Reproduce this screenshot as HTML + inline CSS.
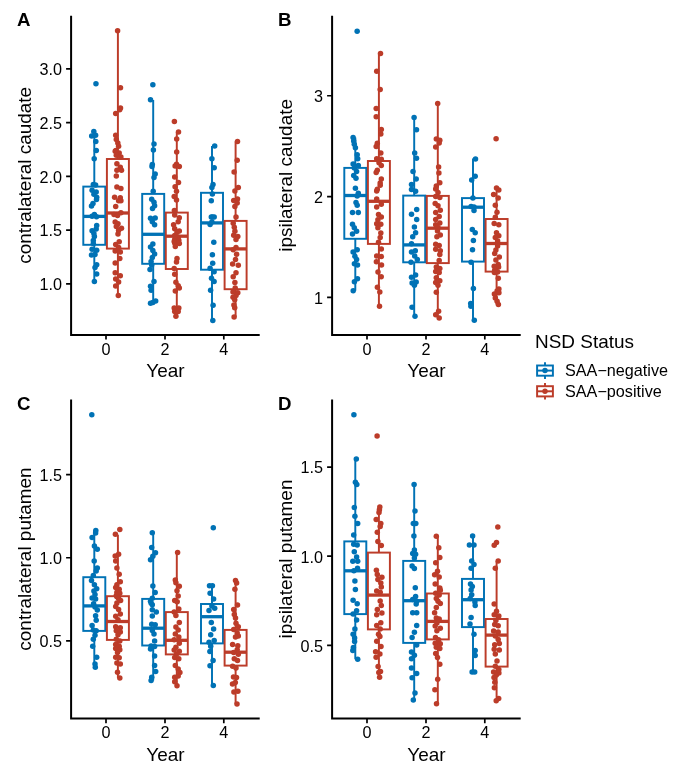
<!DOCTYPE html>
<html lang="en"><head><meta charset="utf-8"><title>Figure</title>
<style>html,body{margin:0;padding:0;background:#fff}svg{display:block}text{font-family:"Liberation Sans",Arial,Helvetica,sans-serif;fill:#000}.tk{font-size:16.2px}.tt{font-size:18.95px}.lb{font-size:18.67px;font-weight:bold}</style></head><body>
<svg width="685" height="782" viewBox="0 0 685 782">
<rect width="685" height="782" fill="#fff"/>
<g>
<g stroke="#0072B5" stroke-width="1.95" fill="none">
<path d="M94.3 131.5V186.6M94.3 244.8V281.4"/>
<rect x="83.3" y="186.6" width="22" height="58.2" fill="#fff"/>
<path d="M83.3 216.4H105.3" stroke-width="3.3"/>
</g>
<g stroke="#BC3C29" stroke-width="1.95" fill="none">
<path d="M117.9 30.8V159M117.9 248.6V295.5"/>
<rect x="106.9" y="159" width="22" height="89.6" fill="#fff"/>
<path d="M106.9 213H128.9" stroke-width="3.3"/>
</g>
<g stroke="#0072B5" stroke-width="1.95" fill="none">
<path d="M153.2 100V193.9M153.2 263.8V303.2"/>
<rect x="142.2" y="193.9" width="22" height="69.9" fill="#fff"/>
<path d="M142.2 234.3H164.2" stroke-width="3.3"/>
</g>
<g stroke="#BC3C29" stroke-width="1.95" fill="none">
<path d="M176.8 132V212.6M176.8 269V316.2"/>
<rect x="165.8" y="212.6" width="22" height="56.4" fill="#fff"/>
<path d="M165.8 236.2H187.8" stroke-width="3.3"/>
</g>
<g stroke="#0072B5" stroke-width="1.95" fill="none">
<path d="M212 146.1V192.8M212 269.7V320.4"/>
<rect x="201" y="192.8" width="22" height="76.9" fill="#fff"/>
<path d="M201 222.9H223" stroke-width="3.3"/>
</g>
<g stroke="#BC3C29" stroke-width="1.95" fill="none">
<path d="M235.6 141.5V220.9M235.6 289.2V317.1"/>
<rect x="224.6" y="220.9" width="22" height="68.3" fill="#fff"/>
<path d="M224.6 248.9H246.6" stroke-width="3.3"/>
</g>
<g fill="#0072B5">
<circle cx="95.95" cy="83.7" r="2.75"/><circle cx="93.8" cy="131.5" r="2.75"/><circle cx="91.7" cy="135.9" r="2.75"/><circle cx="95.6" cy="135.3" r="2.75"/><circle cx="95.8" cy="141.4" r="2.75"/><circle cx="96.3" cy="150.4" r="2.75"/><circle cx="94.2" cy="158.7" r="2.75"/><circle cx="93.3" cy="184.5" r="2.75"/><circle cx="95.6" cy="185.1" r="2.75"/><circle cx="92.1" cy="190.3" r="2.75"/><circle cx="96.2" cy="192" r="2.75"/><circle cx="93.9" cy="194.3" r="2.75"/><circle cx="96.7" cy="197.2" r="2.75"/><circle cx="96.5" cy="199.5" r="2.75"/><circle cx="93" cy="203.6" r="2.75"/><circle cx="91.5" cy="205.9" r="2.75"/><circle cx="92.1" cy="216.2" r="2.75"/><circle cx="94.4" cy="214.5" r="2.75"/><circle cx="96.5" cy="216.8" r="2.75"/><circle cx="96.7" cy="225.4" r="2.75"/><circle cx="96.2" cy="228.9" r="2.75"/><circle cx="92.1" cy="230.8" r="2.75"/><circle cx="93.9" cy="233.5" r="2.75"/><circle cx="94.4" cy="236.4" r="2.75"/><circle cx="93.3" cy="240.5" r="2.75"/><circle cx="93.3" cy="243.4" r="2.75"/><circle cx="92.1" cy="249.2" r="2.75"/><circle cx="96.7" cy="250.3" r="2.75"/><circle cx="91.5" cy="254.9" r="2.75"/><circle cx="95" cy="254.4" r="2.75"/><circle cx="96.7" cy="264.7" r="2.75"/><circle cx="95" cy="267.6" r="2.75"/><circle cx="96.7" cy="273.9" r="2.75"/><circle cx="94.4" cy="281.4" r="2.75"/>
</g>
<g fill="#BC3C29">
<circle cx="117.6" cy="30.8" r="2.75"/><circle cx="120.5" cy="87.7" r="2.75"/><circle cx="120.5" cy="107.9" r="2.75"/><circle cx="119.7" cy="109.8" r="2.75"/><circle cx="115.7" cy="113.6" r="2.75"/><circle cx="115.7" cy="135.3" r="2.75"/><circle cx="116.3" cy="139.5" r="2.75"/><circle cx="117.8" cy="143" r="2.75"/><circle cx="118.6" cy="146.2" r="2.75"/><circle cx="115.9" cy="150.6" r="2.75"/><circle cx="115.2" cy="151.2" r="2.75"/><circle cx="119.2" cy="152.9" r="2.75"/><circle cx="116.3" cy="155.2" r="2.75"/><circle cx="120.9" cy="156.9" r="2.75"/><circle cx="116.9" cy="163.8" r="2.75"/><circle cx="120.3" cy="167.3" r="2.75"/><circle cx="116.9" cy="170.2" r="2.75"/><circle cx="121.5" cy="170.2" r="2.75"/><circle cx="116.3" cy="175.9" r="2.75"/><circle cx="116.9" cy="186.9" r="2.75"/><circle cx="120.9" cy="188.6" r="2.75"/><circle cx="114.6" cy="197.2" r="2.75"/><circle cx="120.3" cy="197.8" r="2.75"/><circle cx="118.6" cy="200.7" r="2.75"/><circle cx="120.9" cy="200.7" r="2.75"/><circle cx="115.7" cy="206.4" r="2.75"/><circle cx="114" cy="214.5" r="2.75"/><circle cx="120.9" cy="212.8" r="2.75"/><circle cx="117.5" cy="215.6" r="2.75"/><circle cx="115.2" cy="222" r="2.75"/><circle cx="118" cy="223.7" r="2.75"/><circle cx="116.3" cy="226.6" r="2.75"/><circle cx="121.5" cy="228.3" r="2.75"/><circle cx="118.6" cy="230.6" r="2.75"/><circle cx="118" cy="234.1" r="2.75"/><circle cx="119.2" cy="241.7" r="2.75"/><circle cx="115.7" cy="244.6" r="2.75"/><circle cx="118.6" cy="247.5" r="2.75"/><circle cx="115.2" cy="250.9" r="2.75"/><circle cx="120.3" cy="252.1" r="2.75"/><circle cx="119.8" cy="258.4" r="2.75"/><circle cx="115.2" cy="263" r="2.75"/><circle cx="115.2" cy="272.8" r="2.75"/><circle cx="120.3" cy="275.7" r="2.75"/><circle cx="115.7" cy="279.1" r="2.75"/><circle cx="118.6" cy="282" r="2.75"/><circle cx="115.7" cy="286" r="2.75"/><circle cx="118.3" cy="295.5" r="2.75"/>
</g>
<g fill="#0072B5">
<circle cx="152.85" cy="84.8" r="2.75"/><circle cx="150.5" cy="99.8" r="2.75"/><circle cx="154" cy="143.9" r="2.75"/><circle cx="153.4" cy="149.9" r="2.75"/><circle cx="152.3" cy="164.6" r="2.75"/><circle cx="152" cy="166.5" r="2.75"/><circle cx="155.2" cy="174" r="2.75"/><circle cx="154" cy="177.5" r="2.75"/><circle cx="153.2" cy="191.3" r="2.75"/><circle cx="151.7" cy="199.3" r="2.75"/><circle cx="154" cy="202.2" r="2.75"/><circle cx="154.6" cy="205.7" r="2.75"/><circle cx="152.5" cy="208.6" r="2.75"/><circle cx="150.5" cy="218.3" r="2.75"/><circle cx="155.2" cy="218.1" r="2.75"/><circle cx="152.3" cy="221.8" r="2.75"/><circle cx="154.6" cy="224.7" r="2.75"/><circle cx="152.85" cy="244" r="2.75"/><circle cx="150.5" cy="247.1" r="2.75"/><circle cx="152.85" cy="250.5" r="2.75"/><circle cx="154.6" cy="254" r="2.75"/><circle cx="152.3" cy="257.5" r="2.75"/><circle cx="151.1" cy="261.5" r="2.75"/><circle cx="151.7" cy="264.9" r="2.75"/><circle cx="150" cy="269.5" r="2.75"/><circle cx="154" cy="281.6" r="2.75"/><circle cx="150.5" cy="286.2" r="2.75"/><circle cx="151.1" cy="290.3" r="2.75"/><circle cx="155.7" cy="300.9" r="2.75"/><circle cx="152.85" cy="302.4" r="2.75"/><circle cx="150.5" cy="303.2" r="2.75"/>
</g>
<g fill="#BC3C29">
<circle cx="174.4" cy="121.4" r="2.75"/><circle cx="178.5" cy="132" r="2.75"/><circle cx="176.7" cy="138.9" r="2.75"/><circle cx="176.7" cy="151.9" r="2.75"/><circle cx="176.5" cy="164.3" r="2.75"/><circle cx="175.1" cy="165.9" r="2.75"/><circle cx="179.3" cy="166.5" r="2.75"/><circle cx="174.7" cy="177.1" r="2.75"/><circle cx="178.5" cy="182.4" r="2.75"/><circle cx="175.1" cy="186.7" r="2.75"/><circle cx="176.5" cy="191.3" r="2.75"/><circle cx="174.2" cy="196.5" r="2.75"/><circle cx="176.5" cy="199.9" r="2.75"/><circle cx="174.4" cy="210.6" r="2.75"/><circle cx="174.7" cy="214.9" r="2.75"/><circle cx="179.3" cy="217.8" r="2.75"/><circle cx="178.2" cy="221.8" r="2.75"/><circle cx="173.6" cy="224.7" r="2.75"/><circle cx="174.7" cy="228.7" r="2.75"/><circle cx="179.3" cy="231" r="2.75"/><circle cx="177" cy="232.2" r="2.75"/><circle cx="174.7" cy="235.6" r="2.75"/><circle cx="178.2" cy="237.3" r="2.75"/><circle cx="174.7" cy="239.6" r="2.75"/><circle cx="178.8" cy="240.2" r="2.75"/><circle cx="174.2" cy="241.4" r="2.75"/><circle cx="177.6" cy="242.5" r="2.75"/><circle cx="174.7" cy="243.1" r="2.75"/><circle cx="179.3" cy="243.6" r="2.75"/><circle cx="175.3" cy="246.5" r="2.75"/><circle cx="177" cy="258.6" r="2.75"/><circle cx="176.5" cy="262.1" r="2.75"/><circle cx="174.2" cy="268.4" r="2.75"/><circle cx="174.7" cy="274.2" r="2.75"/><circle cx="175.9" cy="282.2" r="2.75"/><circle cx="178.2" cy="285.7" r="2.75"/><circle cx="179.3" cy="288" r="2.75"/><circle cx="175.3" cy="290.9" r="2.75"/><circle cx="174.2" cy="308.1" r="2.75"/><circle cx="178.8" cy="308.1" r="2.75"/><circle cx="174.7" cy="311.6" r="2.75"/><circle cx="178.2" cy="311.6" r="2.75"/><circle cx="175.9" cy="316.2" r="2.75"/>
</g>
<g fill="#0072B5">
<circle cx="214.7" cy="146.1" r="2.75"/><circle cx="211.9" cy="158.8" r="2.75"/><circle cx="214.2" cy="167.8" r="2.75"/><circle cx="213" cy="184.4" r="2.75"/><circle cx="211.9" cy="187.6" r="2.75"/><circle cx="212.4" cy="193.9" r="2.75"/><circle cx="211.3" cy="200.8" r="2.75"/><circle cx="212.4" cy="217" r="2.75"/><circle cx="211.3" cy="216.9" r="2.75"/><circle cx="214.2" cy="216.9" r="2.75"/><circle cx="210.1" cy="224.4" r="2.75"/><circle cx="211.9" cy="222.1" r="2.75"/><circle cx="213.8" cy="242.2" r="2.75"/><circle cx="212.4" cy="254.7" r="2.75"/><circle cx="212.7" cy="263.3" r="2.75"/><circle cx="210.1" cy="268.2" r="2.75"/><circle cx="214.1" cy="271.8" r="2.75"/><circle cx="211.5" cy="278.3" r="2.75"/><circle cx="214.1" cy="281.4" r="2.75"/><circle cx="210.6" cy="290.3" r="2.75"/><circle cx="213.1" cy="305.3" r="2.75"/><circle cx="212.8" cy="320.4" r="2.75"/>
</g>
<g fill="#BC3C29">
<circle cx="237.5" cy="141.5" r="2.75"/><circle cx="237.2" cy="160.2" r="2.75"/><circle cx="234.1" cy="172" r="2.75"/><circle cx="238.3" cy="187.6" r="2.75"/><circle cx="234.9" cy="191" r="2.75"/><circle cx="237.5" cy="198.9" r="2.75"/><circle cx="233.7" cy="200.5" r="2.75"/><circle cx="237.2" cy="203.1" r="2.75"/><circle cx="234.9" cy="206.6" r="2.75"/><circle cx="236" cy="217" r="2.75"/><circle cx="233.2" cy="223.2" r="2.75"/><circle cx="234.3" cy="227.3" r="2.75"/><circle cx="234.9" cy="231.3" r="2.75"/><circle cx="233.7" cy="235.3" r="2.75"/><circle cx="237.8" cy="236.5" r="2.75"/><circle cx="236" cy="239.4" r="2.75"/><circle cx="236" cy="247.4" r="2.75"/><circle cx="233.2" cy="249.7" r="2.75"/><circle cx="236.6" cy="254.3" r="2.75"/><circle cx="235.5" cy="259.5" r="2.75"/><circle cx="232.6" cy="264.1" r="2.75"/><circle cx="238.3" cy="265.3" r="2.75"/><circle cx="236" cy="272.8" r="2.75"/><circle cx="233.2" cy="276.8" r="2.75"/><circle cx="234.9" cy="282.6" r="2.75"/><circle cx="235.2" cy="288" r="2.75"/><circle cx="233" cy="291.9" r="2.75"/><circle cx="237.8" cy="292.8" r="2.75"/><circle cx="236" cy="295.4" r="2.75"/><circle cx="233" cy="297.2" r="2.75"/><circle cx="234.7" cy="299.8" r="2.75"/><circle cx="233.9" cy="305" r="2.75"/><circle cx="234.7" cy="307.7" r="2.75"/><circle cx="234.1" cy="317.1" r="2.75"/>
</g>
<g stroke="#000" stroke-width="1.7" fill="none">
<path d="M71.1 15.8V334.9H259.7" stroke-width="2"/>
<path d="M66.1 283.85H71.1M66.1 230.1H71.1M66.1 176.35H71.1M66.1 122.6H71.1M66.1 68.85H71.1M106 334.9V339.6M165 334.9V339.6M223.8 334.9V339.6"/>
</g>
<text class="tk" x="61.9" y="290.2" text-anchor="end">1.0</text>
<text class="tk" x="61.9" y="236.45" text-anchor="end">1.5</text>
<text class="tk" x="61.9" y="182.7" text-anchor="end">2.0</text>
<text class="tk" x="61.9" y="128.95" text-anchor="end">2.5</text>
<text class="tk" x="61.9" y="75.2" text-anchor="end">3.0</text>
<text class="tk" x="106" y="354.7" text-anchor="middle">0</text>
<text class="tk" x="165" y="354.7" text-anchor="middle">2</text>
<text class="tk" x="223.8" y="354.7" text-anchor="middle">4</text>
<text class="tt" x="165.4" y="377" text-anchor="middle">Year</text>
<text class="tt" transform="translate(31.2 175.35) rotate(-90)" text-anchor="middle">contralateral caudate</text>
<text class="lb" x="17" y="26.2">A</text>
</g>
<g>
<g stroke="#0072B5" stroke-width="1.95" fill="none">
<path d="M355.3 137.4V167.9M355.3 238.8V290.8"/>
<rect x="344.3" y="167.9" width="22" height="70.9" fill="#fff"/>
<path d="M344.3 195.5H366.3" stroke-width="3.3"/>
</g>
<g stroke="#BC3C29" stroke-width="1.95" fill="none">
<path d="M378.9 53.4V161M378.9 243.9V306.2"/>
<rect x="367.9" y="161" width="22" height="82.9" fill="#fff"/>
<path d="M367.9 201.3H389.9" stroke-width="3.3"/>
</g>
<g stroke="#0072B5" stroke-width="1.95" fill="none">
<path d="M414.2 117.6V195.6M414.2 262.3V316.2"/>
<rect x="403.2" y="195.6" width="22" height="66.7" fill="#fff"/>
<path d="M403.2 244.9H425.2" stroke-width="3.3"/>
</g>
<g stroke="#BC3C29" stroke-width="1.95" fill="none">
<path d="M437.8 103.6V195.9M437.8 263.1V318.1"/>
<rect x="426.8" y="195.9" width="22" height="67.2" fill="#fff"/>
<path d="M426.8 228.2H448.8" stroke-width="3.3"/>
</g>
<g stroke="#0072B5" stroke-width="1.95" fill="none">
<path d="M473 158.5V198.1M473 261.6V320.3"/>
<rect x="462" y="198.1" width="22" height="63.5" fill="#fff"/>
<path d="M462 207.2H484" stroke-width="3.3"/>
</g>
<g stroke="#BC3C29" stroke-width="1.95" fill="none">
<path d="M496.6 188.1V219M496.6 271.6V304.4"/>
<rect x="485.6" y="219" width="22" height="52.6" fill="#fff"/>
<path d="M485.6 243.5H507.6" stroke-width="3.3"/>
</g>
<g fill="#0072B5">
<circle cx="357.15" cy="31.2" r="2.75"/><circle cx="353.1" cy="137.4" r="2.75"/><circle cx="353.7" cy="140.9" r="2.75"/><circle cx="354.3" cy="144.3" r="2.75"/><circle cx="355.4" cy="147.8" r="2.75"/><circle cx="357.2" cy="154.7" r="2.75"/><circle cx="357.7" cy="158.7" r="2.75"/><circle cx="353.1" cy="163.9" r="2.75"/><circle cx="358.3" cy="165.6" r="2.75"/><circle cx="354.3" cy="167.9" r="2.75"/><circle cx="356.6" cy="171.4" r="2.75"/><circle cx="353.7" cy="175.4" r="2.75"/><circle cx="356" cy="178.3" r="2.75"/><circle cx="355.4" cy="188.2" r="2.75"/><circle cx="358.3" cy="193.2" r="2.75"/><circle cx="357.2" cy="196.1" r="2.75"/><circle cx="356" cy="202.5" r="2.75"/><circle cx="357.2" cy="205.3" r="2.75"/><circle cx="352.5" cy="212.6" r="2.75"/><circle cx="358.3" cy="212.6" r="2.75"/><circle cx="352.5" cy="224.3" r="2.75"/><circle cx="354.3" cy="227.8" r="2.75"/><circle cx="356.6" cy="231.2" r="2.75"/><circle cx="352.5" cy="234.1" r="2.75"/><circle cx="357.2" cy="249.7" r="2.75"/><circle cx="353.1" cy="252" r="2.75"/><circle cx="354.9" cy="256.2" r="2.75"/><circle cx="356.6" cy="259.5" r="2.75"/><circle cx="354.4" cy="263.7" r="2.75"/><circle cx="357.5" cy="264.9" r="2.75"/><circle cx="357.5" cy="278.8" r="2.75"/><circle cx="354.4" cy="281.8" r="2.75"/><circle cx="353.2" cy="290.8" r="2.75"/>
</g>
<g fill="#BC3C29">
<circle cx="380.5" cy="53.4" r="2.75"/><circle cx="376.7" cy="71.2" r="2.75"/><circle cx="380.2" cy="89.4" r="2.75"/><circle cx="376.2" cy="108.6" r="2.75"/><circle cx="376.2" cy="116.7" r="2.75"/><circle cx="381.3" cy="129.4" r="2.75"/><circle cx="380.8" cy="134" r="2.75"/><circle cx="377.3" cy="143.2" r="2.75"/><circle cx="376.2" cy="146.6" r="2.75"/><circle cx="380.8" cy="153" r="2.75"/><circle cx="376.7" cy="158.7" r="2.75"/><circle cx="381.3" cy="159.3" r="2.75"/><circle cx="379" cy="162.8" r="2.75"/><circle cx="381.3" cy="165.6" r="2.75"/><circle cx="377.3" cy="170.3" r="2.75"/><circle cx="376.2" cy="172.6" r="2.75"/><circle cx="381.3" cy="178.9" r="2.75"/><circle cx="380.2" cy="182.9" r="2.75"/><circle cx="380.2" cy="185.2" r="2.75"/><circle cx="377.3" cy="189.3" r="2.75"/><circle cx="376.7" cy="190.9" r="2.75"/><circle cx="376.7" cy="199" r="2.75"/><circle cx="381.3" cy="204.2" r="2.75"/><circle cx="376.7" cy="207.1" r="2.75"/><circle cx="378.5" cy="214.6" r="2.75"/><circle cx="381.3" cy="216.9" r="2.75"/><circle cx="377.9" cy="219.7" r="2.75"/><circle cx="376.7" cy="223.8" r="2.75"/><circle cx="380.8" cy="224.3" r="2.75"/><circle cx="377.9" cy="227.8" r="2.75"/><circle cx="380.8" cy="233" r="2.75"/><circle cx="380.2" cy="237.6" r="2.75"/><circle cx="378.5" cy="242.2" r="2.75"/><circle cx="381.3" cy="249.1" r="2.75"/><circle cx="376.7" cy="256" r="2.75"/><circle cx="381.3" cy="256.6" r="2.75"/><circle cx="376.4" cy="261.7" r="2.75"/><circle cx="381.5" cy="264.9" r="2.75"/><circle cx="378" cy="271.9" r="2.75"/><circle cx="381.2" cy="276.8" r="2.75"/><circle cx="377.4" cy="287.3" r="2.75"/><circle cx="379.8" cy="291.9" r="2.75"/><circle cx="379.5" cy="306.2" r="2.75"/>
</g>
<g fill="#0072B5">
<circle cx="414.1" cy="117.6" r="2.75"/><circle cx="416.5" cy="129.7" r="2.75"/><circle cx="414.7" cy="153.1" r="2.75"/><circle cx="416.5" cy="158.2" r="2.75"/><circle cx="413" cy="171.6" r="2.75"/><circle cx="416.2" cy="178.9" r="2.75"/><circle cx="411.5" cy="184.4" r="2.75"/><circle cx="411.5" cy="189.6" r="2.75"/><circle cx="415.6" cy="191.3" r="2.75"/><circle cx="416.7" cy="209.4" r="2.75"/><circle cx="411.5" cy="214.3" r="2.75"/><circle cx="416.7" cy="219.5" r="2.75"/><circle cx="414.4" cy="227" r="2.75"/><circle cx="415.6" cy="232.8" r="2.75"/><circle cx="412.7" cy="236.8" r="2.75"/><circle cx="411.5" cy="243.7" r="2.75"/><circle cx="411.5" cy="252.1" r="2.75"/><circle cx="415.3" cy="250.7" r="2.75"/><circle cx="414.7" cy="255.9" r="2.75"/><circle cx="417.3" cy="259.4" r="2.75"/><circle cx="411" cy="262.3" r="2.75"/><circle cx="415.6" cy="274.9" r="2.75"/><circle cx="411.5" cy="277.2" r="2.75"/><circle cx="416.2" cy="281.9" r="2.75"/><circle cx="412.1" cy="283" r="2.75"/><circle cx="414.4" cy="285.3" r="2.75"/><circle cx="412.1" cy="307.2" r="2.75"/><circle cx="415" cy="316.2" r="2.75"/>
</g>
<g fill="#BC3C29">
<circle cx="437.7" cy="103.6" r="2.75"/><circle cx="436.3" cy="138.9" r="2.75"/><circle cx="439.8" cy="140.3" r="2.75"/><circle cx="439.2" cy="143" r="2.75"/><circle cx="435.7" cy="147" r="2.75"/><circle cx="438.6" cy="166.9" r="2.75"/><circle cx="438.9" cy="172.9" r="2.75"/><circle cx="439.8" cy="182.7" r="2.75"/><circle cx="436.3" cy="186.1" r="2.75"/><circle cx="435.7" cy="189" r="2.75"/><circle cx="438" cy="192.5" r="2.75"/><circle cx="435.7" cy="196.5" r="2.75"/><circle cx="439.8" cy="197.6" r="2.75"/><circle cx="435.2" cy="203.4" r="2.75"/><circle cx="438" cy="205.7" r="2.75"/><circle cx="440.3" cy="210.3" r="2.75"/><circle cx="435.7" cy="212.6" r="2.75"/><circle cx="439.2" cy="216.6" r="2.75"/><circle cx="435.7" cy="219.5" r="2.75"/><circle cx="439.8" cy="223" r="2.75"/><circle cx="435.7" cy="224.7" r="2.75"/><circle cx="438" cy="227.6" r="2.75"/><circle cx="437.5" cy="231" r="2.75"/><circle cx="440.3" cy="235.1" r="2.75"/><circle cx="436.9" cy="236.8" r="2.75"/><circle cx="435.7" cy="244.3" r="2.75"/><circle cx="439.2" cy="245.4" r="2.75"/><circle cx="440.3" cy="250.7" r="2.75"/><circle cx="435.7" cy="249.3" r="2.75"/><circle cx="439.8" cy="254.4" r="2.75"/><circle cx="439.2" cy="260.5" r="2.75"/><circle cx="436.3" cy="266.9" r="2.75"/><circle cx="439.8" cy="268.6" r="2.75"/><circle cx="435.7" cy="271.5" r="2.75"/><circle cx="439.2" cy="272.6" r="2.75"/><circle cx="436.3" cy="277.8" r="2.75"/><circle cx="439.8" cy="280.7" r="2.75"/><circle cx="435.7" cy="282.4" r="2.75"/><circle cx="438" cy="285.3" r="2.75"/><circle cx="436.3" cy="292.2" r="2.75"/><circle cx="438.6" cy="311.2" r="2.75"/><circle cx="435.7" cy="314.7" r="2.75"/><circle cx="439.2" cy="318.1" r="2.75"/>
</g>
<g fill="#0072B5">
<circle cx="475.5" cy="159" r="2.75"/><circle cx="475.2" cy="176.2" r="2.75"/><circle cx="471.7" cy="180" r="2.75"/><circle cx="472.9" cy="198.1" r="2.75"/><circle cx="471.1" cy="206.6" r="2.75"/><circle cx="474" cy="207.1" r="2.75"/><circle cx="474" cy="210.6" r="2.75"/><circle cx="472.3" cy="229.4" r="2.75"/><circle cx="475.2" cy="232.8" r="2.75"/><circle cx="473.4" cy="240.5" r="2.75"/><circle cx="472.5" cy="249.8" r="2.75"/><circle cx="471.1" cy="262.2" r="2.75"/><circle cx="473.4" cy="288.4" r="2.75"/><circle cx="470.7" cy="303.5" r="2.75"/><circle cx="470.9" cy="306.2" r="2.75"/><circle cx="474.3" cy="320.3" r="2.75"/>
</g>
<g fill="#BC3C29">
<circle cx="496.1" cy="138.8" r="2.75"/><circle cx="496.5" cy="188.1" r="2.75"/><circle cx="498.8" cy="190.1" r="2.75"/><circle cx="493.6" cy="194.4" r="2.75"/><circle cx="498.2" cy="198.1" r="2.75"/><circle cx="495.3" cy="205.3" r="2.75"/><circle cx="497" cy="212.3" r="2.75"/><circle cx="495.3" cy="217.3" r="2.75"/><circle cx="494.2" cy="223.6" r="2.75"/><circle cx="498.8" cy="224.8" r="2.75"/><circle cx="496.5" cy="232.8" r="2.75"/><circle cx="498.8" cy="235.7" r="2.75"/><circle cx="495.3" cy="237.4" r="2.75"/><circle cx="497.6" cy="240.9" r="2.75"/><circle cx="497.6" cy="246.1" r="2.75"/><circle cx="495.9" cy="250.1" r="2.75"/><circle cx="494.7" cy="253.6" r="2.75"/><circle cx="499.3" cy="257" r="2.75"/><circle cx="495.9" cy="259.9" r="2.75"/><circle cx="498.2" cy="264.5" r="2.75"/><circle cx="494.2" cy="266.2" r="2.75"/><circle cx="498.6" cy="266.9" r="2.75"/><circle cx="495.7" cy="269.5" r="2.75"/><circle cx="494.7" cy="270.3" r="2.75"/><circle cx="497.6" cy="272" r="2.75"/><circle cx="494.4" cy="272.6" r="2.75"/><circle cx="498.3" cy="278.2" r="2.75"/><circle cx="498.9" cy="289" r="2.75"/><circle cx="497.1" cy="291" r="2.75"/><circle cx="494.4" cy="294.1" r="2.75"/><circle cx="498.9" cy="292.8" r="2.75"/><circle cx="495.3" cy="298.1" r="2.75"/><circle cx="497.1" cy="301.3" r="2.75"/><circle cx="498.4" cy="304.4" r="2.75"/>
</g>
<g stroke="#000" stroke-width="1.7" fill="none">
<path d="M332.1 15.8V334.9H520.7" stroke-width="2"/>
<path d="M327.1 297.45H332.1M327.1 196.6H332.1M327.1 95.75H332.1M367 334.9V339.6M426 334.9V339.6M484.8 334.9V339.6"/>
</g>
<text class="tk" x="322.9" y="303.8" text-anchor="end">1</text>
<text class="tk" x="322.9" y="202.95" text-anchor="end">2</text>
<text class="tk" x="322.9" y="102.1" text-anchor="end">3</text>
<text class="tk" x="367" y="354.7" text-anchor="middle">0</text>
<text class="tk" x="426" y="354.7" text-anchor="middle">2</text>
<text class="tk" x="484.8" y="354.7" text-anchor="middle">4</text>
<text class="tt" x="426.4" y="377" text-anchor="middle">Year</text>
<text class="tt" transform="translate(292.2 175.35) rotate(-90)" text-anchor="middle">ipsilateral caudate</text>
<text class="lb" x="278.1" y="26.2">B</text>
</g>
<g>
<g stroke="#0072B5" stroke-width="1.95" fill="none">
<path d="M94.3 530.5V577.2M94.3 630.9V667.3"/>
<rect x="83.3" y="577.2" width="22" height="53.7" fill="#fff"/>
<path d="M83.3 605.9H105.3" stroke-width="3.3"/>
</g>
<g stroke="#BC3C29" stroke-width="1.95" fill="none">
<path d="M117.9 534.8V596.2M117.9 639.9V677.9"/>
<rect x="106.9" y="596.2" width="22" height="43.7" fill="#fff"/>
<path d="M106.9 621.5H128.9" stroke-width="3.3"/>
</g>
<g stroke="#0072B5" stroke-width="1.95" fill="none">
<path d="M153.2 532.7V598.9M153.2 645.5V680.6"/>
<rect x="142.2" y="598.9" width="22" height="46.6" fill="#fff"/>
<path d="M142.2 628.2H164.2" stroke-width="3.3"/>
</g>
<g stroke="#BC3C29" stroke-width="1.95" fill="none">
<path d="M176.8 552.6V612.1M176.8 654.4V685.8"/>
<rect x="165.8" y="612.1" width="22" height="42.3" fill="#fff"/>
<path d="M165.8 640.3H187.8" stroke-width="3.3"/>
</g>
<g stroke="#0072B5" stroke-width="1.95" fill="none">
<path d="M212 585.8V604M212 643.4V685.6"/>
<rect x="201" y="604" width="22" height="39.4" fill="#fff"/>
<path d="M201 616.7H223" stroke-width="3.3"/>
</g>
<g stroke="#BC3C29" stroke-width="1.95" fill="none">
<path d="M235.6 580.6V629.9M235.6 665.6V704"/>
<rect x="224.6" y="629.9" width="22" height="35.7" fill="#fff"/>
<path d="M224.6 652.2H246.6" stroke-width="3.3"/>
</g>
<g fill="#0072B5">
<circle cx="91.8" cy="414.8" r="2.75"/><circle cx="95.8" cy="530.5" r="2.75"/><circle cx="95.6" cy="532.9" r="2.75"/><circle cx="92.1" cy="537.5" r="2.75"/><circle cx="94.4" cy="546.1" r="2.75"/><circle cx="97.3" cy="549.3" r="2.75"/><circle cx="94.2" cy="561.1" r="2.75"/><circle cx="97.3" cy="568" r="2.75"/><circle cx="96.2" cy="570.9" r="2.75"/><circle cx="93.3" cy="575.5" r="2.75"/><circle cx="91.5" cy="580.6" r="2.75"/><circle cx="94.4" cy="584.7" r="2.75"/><circle cx="96.7" cy="588.7" r="2.75"/><circle cx="93.9" cy="591" r="2.75"/><circle cx="95" cy="594.5" r="2.75"/><circle cx="92.1" cy="597.9" r="2.75"/><circle cx="95.6" cy="599.1" r="2.75"/><circle cx="93.6" cy="603.7" r="2.75"/><circle cx="95" cy="607.1" r="2.75"/><circle cx="97.3" cy="610" r="2.75"/><circle cx="95.6" cy="615.7" r="2.75"/><circle cx="96.2" cy="620.3" r="2.75"/><circle cx="92.1" cy="625.5" r="2.75"/><circle cx="96.2" cy="630.7" r="2.75"/><circle cx="93.3" cy="630.1" r="2.75"/><circle cx="95" cy="635.3" r="2.75"/><circle cx="93.3" cy="639.3" r="2.75"/><circle cx="92.7" cy="646.2" r="2.75"/><circle cx="96.7" cy="657.2" r="2.75"/><circle cx="95" cy="664.1" r="2.75"/><circle cx="95.3" cy="667.3" r="2.75"/>
</g>
<g fill="#BC3C29">
<circle cx="119.8" cy="529.4" r="2.75"/><circle cx="115.4" cy="534.3" r="2.75"/><circle cx="118.6" cy="554.2" r="2.75"/><circle cx="115.2" cy="555.9" r="2.75"/><circle cx="115.7" cy="561.1" r="2.75"/><circle cx="116.9" cy="568" r="2.75"/><circle cx="119.2" cy="574.3" r="2.75"/><circle cx="120.3" cy="581.8" r="2.75"/><circle cx="116.9" cy="584.7" r="2.75"/><circle cx="115.7" cy="587.6" r="2.75"/><circle cx="119.2" cy="589.3" r="2.75"/><circle cx="116.9" cy="592.2" r="2.75"/><circle cx="119.8" cy="593.3" r="2.75"/><circle cx="116.3" cy="595.6" r="2.75"/><circle cx="116.9" cy="596.7" r="2.75"/><circle cx="118.6" cy="598.5" r="2.75"/><circle cx="120.6" cy="600.5" r="2.75"/><circle cx="116.9" cy="603.1" r="2.75"/><circle cx="115.7" cy="606.5" r="2.75"/><circle cx="118.6" cy="609.4" r="2.75"/><circle cx="120.3" cy="614" r="2.75"/><circle cx="115.7" cy="616.3" r="2.75"/><circle cx="118" cy="619.8" r="2.75"/><circle cx="115.7" cy="626.7" r="2.75"/><circle cx="120.3" cy="627.8" r="2.75"/><circle cx="116.3" cy="630.7" r="2.75"/><circle cx="120.3" cy="631.9" r="2.75"/><circle cx="118" cy="634.7" r="2.75"/><circle cx="116.3" cy="639.3" r="2.75"/><circle cx="119.8" cy="641.1" r="2.75"/><circle cx="115.7" cy="644.5" r="2.75"/><circle cx="119.2" cy="646.2" r="2.75"/><circle cx="115.7" cy="648.6" r="2.75"/><circle cx="119.8" cy="649.7" r="2.75"/><circle cx="117.5" cy="652.6" r="2.75"/><circle cx="115.7" cy="657.2" r="2.75"/><circle cx="119.2" cy="657.8" r="2.75"/><circle cx="116.9" cy="662.9" r="2.75"/><circle cx="120.3" cy="664.1" r="2.75"/><circle cx="117.5" cy="672.2" r="2.75"/><circle cx="119.8" cy="677.9" r="2.75"/>
</g>
<g fill="#0072B5">
<circle cx="152.3" cy="532.7" r="2.75"/><circle cx="151.7" cy="547.6" r="2.75"/><circle cx="155.5" cy="552.8" r="2.75"/><circle cx="152.85" cy="556.3" r="2.75"/><circle cx="150.5" cy="559.7" r="2.75"/><circle cx="152.85" cy="585.9" r="2.75"/><circle cx="155.2" cy="592.6" r="2.75"/><circle cx="152.3" cy="598.3" r="2.75"/><circle cx="150.5" cy="601.2" r="2.75"/><circle cx="151.1" cy="602.9" r="2.75"/><circle cx="152.3" cy="604.8" r="2.75"/><circle cx="152.3" cy="609.8" r="2.75"/><circle cx="156.3" cy="612.1" r="2.75"/><circle cx="152.3" cy="616.1" r="2.75"/><circle cx="151.7" cy="624.2" r="2.75"/><circle cx="155.2" cy="624.8" r="2.75"/><circle cx="152.3" cy="630.5" r="2.75"/><circle cx="154" cy="634" r="2.75"/><circle cx="154.6" cy="640.9" r="2.75"/><circle cx="151.1" cy="646.1" r="2.75"/><circle cx="154.6" cy="646.6" r="2.75"/><circle cx="150.5" cy="648.9" r="2.75"/><circle cx="154.6" cy="655.9" r="2.75"/><circle cx="154.6" cy="665.6" r="2.75"/><circle cx="155.7" cy="671.4" r="2.75"/><circle cx="151.7" cy="677.2" r="2.75"/><circle cx="151.1" cy="680.6" r="2.75"/>
</g>
<g fill="#BC3C29">
<circle cx="177.6" cy="552.6" r="2.75"/><circle cx="175.3" cy="579.9" r="2.75"/><circle cx="175.9" cy="582.8" r="2.75"/><circle cx="179.3" cy="586.2" r="2.75"/><circle cx="177" cy="590.8" r="2.75"/><circle cx="178.2" cy="596" r="2.75"/><circle cx="174.7" cy="600.6" r="2.75"/><circle cx="177.2" cy="601.8" r="2.75"/><circle cx="178.8" cy="608.9" r="2.75"/><circle cx="174.2" cy="612.1" r="2.75"/><circle cx="175.9" cy="615.5" r="2.75"/><circle cx="179.3" cy="622.5" r="2.75"/><circle cx="175.9" cy="627.1" r="2.75"/><circle cx="178.2" cy="629.9" r="2.75"/><circle cx="175.3" cy="634" r="2.75"/><circle cx="178.8" cy="636.9" r="2.75"/><circle cx="174.2" cy="639.7" r="2.75"/><circle cx="179.3" cy="643.2" r="2.75"/><circle cx="175.9" cy="647.2" r="2.75"/><circle cx="174.2" cy="650.1" r="2.75"/><circle cx="179.3" cy="651.2" r="2.75"/><circle cx="176.5" cy="654.1" r="2.75"/><circle cx="174.7" cy="657.6" r="2.75"/><circle cx="178.8" cy="658.7" r="2.75"/><circle cx="175.3" cy="665.6" r="2.75"/><circle cx="178.2" cy="669.1" r="2.75"/><circle cx="179.9" cy="672.6" r="2.75"/><circle cx="174.7" cy="677.2" r="2.75"/><circle cx="178.2" cy="676" r="2.75"/><circle cx="174.7" cy="681.8" r="2.75"/><circle cx="177" cy="685.8" r="2.75"/>
</g>
<g fill="#0072B5">
<circle cx="213.3" cy="527.7" r="2.75"/><circle cx="209.5" cy="585.8" r="2.75"/><circle cx="212.4" cy="585.8" r="2.75"/><circle cx="210.1" cy="593.3" r="2.75"/><circle cx="213.6" cy="599.1" r="2.75"/><circle cx="211.9" cy="605.9" r="2.75"/><circle cx="214.7" cy="608.2" r="2.75"/><circle cx="209" cy="610.5" r="2.75"/><circle cx="211.3" cy="622.4" r="2.75"/><circle cx="213.6" cy="629" r="2.75"/><circle cx="210.7" cy="634.7" r="2.75"/><circle cx="214.2" cy="640.5" r="2.75"/><circle cx="209" cy="642.2" r="2.75"/><circle cx="210.7" cy="646.2" r="2.75"/><circle cx="209.9" cy="651.6" r="2.75"/><circle cx="213.1" cy="660.6" r="2.75"/><circle cx="210" cy="665.8" r="2.75"/><circle cx="213.3" cy="685.6" r="2.75"/>
</g>
<g fill="#BC3C29">
<circle cx="235.5" cy="580.6" r="2.75"/><circle cx="236.6" cy="582.9" r="2.75"/><circle cx="234.9" cy="589.3" r="2.75"/><circle cx="237.5" cy="605.1" r="2.75"/><circle cx="233.7" cy="609.4" r="2.75"/><circle cx="234.3" cy="614.6" r="2.75"/><circle cx="235.5" cy="618" r="2.75"/><circle cx="236" cy="623.2" r="2.75"/><circle cx="238.3" cy="626.7" r="2.75"/><circle cx="233.7" cy="629.6" r="2.75"/><circle cx="237.2" cy="633" r="2.75"/><circle cx="238.3" cy="635.9" r="2.75"/><circle cx="235.5" cy="637" r="2.75"/><circle cx="232.6" cy="644.5" r="2.75"/><circle cx="237.8" cy="645.7" r="2.75"/><circle cx="237.2" cy="649.7" r="2.75"/><circle cx="233.7" cy="652.6" r="2.75"/><circle cx="238.3" cy="654.3" r="2.75"/><circle cx="234.3" cy="658.8" r="2.75"/><circle cx="237.5" cy="660.4" r="2.75"/><circle cx="232.6" cy="666.2" r="2.75"/><circle cx="236" cy="668" r="2.75"/><circle cx="233.5" cy="677.1" r="2.75"/><circle cx="236.5" cy="677.6" r="2.75"/><circle cx="232.5" cy="684" r="2.75"/><circle cx="235.3" cy="682.4" r="2.75"/><circle cx="233.9" cy="692.1" r="2.75"/><circle cx="237.9" cy="691.2" r="2.75"/><circle cx="237" cy="704" r="2.75"/>
</g>
<g stroke="#000" stroke-width="1.7" fill="none">
<path d="M71.1 399.5V718.6H259.7" stroke-width="2"/>
<path d="M66.1 640.95H71.1M66.1 557.75H71.1M66.1 474.55H71.1M106 718.6V723.3M165 718.6V723.3M223.8 718.6V723.3"/>
</g>
<text class="tk" x="61.9" y="647.3" text-anchor="end">0.5</text>
<text class="tk" x="61.9" y="564.1" text-anchor="end">1.0</text>
<text class="tk" x="61.9" y="480.9" text-anchor="end">1.5</text>
<text class="tk" x="106" y="738.4" text-anchor="middle">0</text>
<text class="tk" x="165" y="738.4" text-anchor="middle">2</text>
<text class="tk" x="223.8" y="738.4" text-anchor="middle">4</text>
<text class="tt" x="165.4" y="760.7" text-anchor="middle">Year</text>
<text class="tt" transform="translate(31.2 559.05) rotate(-90)" text-anchor="middle">contralateral putamen</text>
<text class="lb" x="17" y="409.9">C</text>
</g>
<g>
<g stroke="#0072B5" stroke-width="1.95" fill="none">
<path d="M355.3 459.1V541.4M355.3 614.1V659.2"/>
<rect x="344.3" y="541.4" width="22" height="72.7" fill="#fff"/>
<path d="M344.3 570.8H366.3" stroke-width="3.3"/>
</g>
<g stroke="#BC3C29" stroke-width="1.95" fill="none">
<path d="M378.9 506.9V552.6M378.9 629.4V677.2"/>
<rect x="367.9" y="552.6" width="22" height="76.8" fill="#fff"/>
<path d="M367.9 595.1H389.9" stroke-width="3.3"/>
</g>
<g stroke="#0072B5" stroke-width="1.95" fill="none">
<path d="M414.2 484.4V560.9M414.2 642.9V700"/>
<rect x="403.2" y="560.9" width="22" height="82" fill="#fff"/>
<path d="M403.2 600.7H425.2" stroke-width="3.3"/>
</g>
<g stroke="#BC3C29" stroke-width="1.95" fill="none">
<path d="M437.8 536.2V593.5M437.8 639.4V703.7"/>
<rect x="426.8" y="593.5" width="22" height="45.9" fill="#fff"/>
<path d="M426.8 621.4H448.8" stroke-width="3.3"/>
</g>
<g stroke="#0072B5" stroke-width="1.95" fill="none">
<path d="M473 536.1V578.9M473 627.1V672"/>
<rect x="462" y="578.9" width="22" height="48.2" fill="#fff"/>
<path d="M462 599.7H484" stroke-width="3.3"/>
</g>
<g stroke="#BC3C29" stroke-width="1.95" fill="none">
<path d="M496.6 561.1V619M496.6 666.6V700.7"/>
<rect x="485.6" y="619" width="22" height="47.6" fill="#fff"/>
<path d="M485.6 635.1H507.6" stroke-width="3.3"/>
</g>
<g fill="#0072B5">
<circle cx="353.9" cy="414.8" r="2.75"/><circle cx="356.3" cy="459.1" r="2.75"/><circle cx="355.4" cy="482.2" r="2.75"/><circle cx="356.8" cy="484.5" r="2.75"/><circle cx="354.3" cy="507.5" r="2.75"/><circle cx="354.9" cy="516.3" r="2.75"/><circle cx="357.7" cy="523.6" r="2.75"/><circle cx="353.7" cy="535.1" r="2.75"/><circle cx="353.7" cy="544.3" r="2.75"/><circle cx="357.2" cy="544.9" r="2.75"/><circle cx="354.3" cy="551.8" r="2.75"/><circle cx="356.6" cy="557" r="2.75"/><circle cx="352.8" cy="561.3" r="2.75"/><circle cx="357.7" cy="561.3" r="2.75"/><circle cx="357.5" cy="568.2" r="2.75"/><circle cx="353.9" cy="570.8" r="2.75"/><circle cx="354.9" cy="581" r="2.75"/><circle cx="355.4" cy="589.6" r="2.75"/><circle cx="353.1" cy="600.3" r="2.75"/><circle cx="357.2" cy="603.8" r="2.75"/><circle cx="356.6" cy="610.7" r="2.75"/><circle cx="353.1" cy="614.1" r="2.75"/><circle cx="356.6" cy="619.9" r="2.75"/><circle cx="354.9" cy="629.1" r="2.75"/><circle cx="353.1" cy="634.3" r="2.75"/><circle cx="354.6" cy="638" r="2.75"/><circle cx="354.6" cy="641.5" r="2.75"/><circle cx="353.4" cy="647.5" r="2.75"/><circle cx="352.8" cy="650.4" r="2.75"/><circle cx="357.7" cy="659.2" r="2.75"/>
</g>
<g fill="#BC3C29">
<circle cx="377.1" cy="436.1" r="2.75"/><circle cx="379.8" cy="506.9" r="2.75"/><circle cx="379.4" cy="509.8" r="2.75"/><circle cx="379" cy="512.6" r="2.75"/><circle cx="376.2" cy="519.6" r="2.75"/><circle cx="380.8" cy="523.6" r="2.75"/><circle cx="380.2" cy="526.5" r="2.75"/><circle cx="377.3" cy="532.2" r="2.75"/><circle cx="377.9" cy="541.4" r="2.75"/><circle cx="381.3" cy="545.5" r="2.75"/><circle cx="376.4" cy="570.3" r="2.75"/><circle cx="377.3" cy="574.4" r="2.75"/><circle cx="381.9" cy="577.3" r="2.75"/><circle cx="377.9" cy="579.6" r="2.75"/><circle cx="380.8" cy="583" r="2.75"/><circle cx="381.3" cy="587.1" r="2.75"/><circle cx="376.7" cy="591.1" r="2.75"/><circle cx="380.2" cy="592.2" r="2.75"/><circle cx="380.2" cy="600.9" r="2.75"/><circle cx="381.3" cy="605.5" r="2.75"/><circle cx="377.3" cy="609.5" r="2.75"/><circle cx="381.9" cy="613" r="2.75"/><circle cx="376.7" cy="614.7" r="2.75"/><circle cx="380.8" cy="622.8" r="2.75"/><circle cx="376.7" cy="625.6" r="2.75"/><circle cx="380.2" cy="629.1" r="2.75"/><circle cx="378.5" cy="634.3" r="2.75"/><circle cx="379.9" cy="636.6" r="2.75"/><circle cx="376.7" cy="641.3" r="2.75"/><circle cx="381" cy="646.6" r="2.75"/><circle cx="375.6" cy="651.8" r="2.75"/><circle cx="379.9" cy="654" r="2.75"/><circle cx="376.1" cy="657.3" r="2.75"/><circle cx="378.1" cy="666.5" r="2.75"/><circle cx="380.5" cy="671.4" r="2.75"/><circle cx="378.8" cy="672.5" r="2.75"/><circle cx="379.6" cy="677.2" r="2.75"/>
</g>
<g fill="#0072B5">
<circle cx="414.1" cy="484.4" r="2.75"/><circle cx="415" cy="510.9" r="2.75"/><circle cx="413.3" cy="523.6" r="2.75"/><circle cx="415.8" cy="523.6" r="2.75"/><circle cx="413.9" cy="535.9" r="2.75"/><circle cx="414.4" cy="550" r="2.75"/><circle cx="412.7" cy="553.5" r="2.75"/><circle cx="415.6" cy="554.3" r="2.75"/><circle cx="414.4" cy="558.1" r="2.75"/><circle cx="412.1" cy="566.1" r="2.75"/><circle cx="414.4" cy="568.4" r="2.75"/><circle cx="415.3" cy="587.8" r="2.75"/><circle cx="415.6" cy="596.6" r="2.75"/><circle cx="412.7" cy="599.5" r="2.75"/><circle cx="416.7" cy="601.2" r="2.75"/><circle cx="416.2" cy="604.1" r="2.75"/><circle cx="412.7" cy="612.8" r="2.75"/><circle cx="416.7" cy="612.8" r="2.75"/><circle cx="416.7" cy="625.4" r="2.75"/><circle cx="414.4" cy="632.3" r="2.75"/><circle cx="412.1" cy="637.5" r="2.75"/><circle cx="416.7" cy="645" r="2.75"/><circle cx="411.5" cy="651.9" r="2.75"/><circle cx="414.4" cy="655.3" r="2.75"/><circle cx="411.5" cy="658.8" r="2.75"/><circle cx="411.5" cy="668" r="2.75"/><circle cx="416.7" cy="673.5" r="2.75"/><circle cx="412.1" cy="677.8" r="2.75"/><circle cx="415" cy="693.1" r="2.75"/><circle cx="413.3" cy="700" r="2.75"/>
</g>
<g fill="#BC3C29">
<circle cx="436.3" cy="536.2" r="2.75"/><circle cx="438.8" cy="547.7" r="2.75"/><circle cx="439.8" cy="557.5" r="2.75"/><circle cx="435.7" cy="562.7" r="2.75"/><circle cx="437.5" cy="571.3" r="2.75"/><circle cx="434.6" cy="574.8" r="2.75"/><circle cx="439.2" cy="577.1" r="2.75"/><circle cx="435.2" cy="584" r="2.75"/><circle cx="439.8" cy="588" r="2.75"/><circle cx="440.3" cy="590.3" r="2.75"/><circle cx="435.7" cy="593.2" r="2.75"/><circle cx="439.2" cy="594.9" r="2.75"/><circle cx="436.3" cy="598.4" r="2.75"/><circle cx="438" cy="601.2" r="2.75"/><circle cx="440.3" cy="603.6" r="2.75"/><circle cx="436.3" cy="607.6" r="2.75"/><circle cx="434.6" cy="612.8" r="2.75"/><circle cx="436.3" cy="617.9" r="2.75"/><circle cx="439.2" cy="619.1" r="2.75"/><circle cx="436.9" cy="623.1" r="2.75"/><circle cx="435.2" cy="626" r="2.75"/><circle cx="440.3" cy="628.3" r="2.75"/><circle cx="436.9" cy="630.8" r="2.75"/><circle cx="435.5" cy="637.5" r="2.75"/><circle cx="438.6" cy="639.8" r="2.75"/><circle cx="435.2" cy="643.2" r="2.75"/><circle cx="440.3" cy="643.8" r="2.75"/><circle cx="436.3" cy="647.3" r="2.75"/><circle cx="439.8" cy="648.4" r="2.75"/><circle cx="435.7" cy="653.6" r="2.75"/><circle cx="437.5" cy="657.6" r="2.75"/><circle cx="439.8" cy="664.3" r="2.75"/><circle cx="437.7" cy="679.3" r="2.75"/><circle cx="434.9" cy="689.7" r="2.75"/><circle cx="436.5" cy="703.7" r="2.75"/>
</g>
<g fill="#0072B5">
<circle cx="472.6" cy="536.1" r="2.75"/><circle cx="469.4" cy="544.9" r="2.75"/><circle cx="474" cy="544.9" r="2.75"/><circle cx="471.7" cy="561.1" r="2.75"/><circle cx="474" cy="564.5" r="2.75"/><circle cx="471.1" cy="568.2" r="2.75"/><circle cx="470.5" cy="584.1" r="2.75"/><circle cx="472.3" cy="586.4" r="2.75"/><circle cx="471.1" cy="589.9" r="2.75"/><circle cx="471.7" cy="594.8" r="2.75"/><circle cx="470.2" cy="598.6" r="2.75"/><circle cx="474.9" cy="602" r="2.75"/><circle cx="475.2" cy="605.5" r="2.75"/><circle cx="471.1" cy="617.6" r="2.75"/><circle cx="470" cy="624" r="2.75"/><circle cx="474" cy="634.3" r="2.75"/><circle cx="475.2" cy="650.5" r="2.75"/><circle cx="475.2" cy="655.6" r="2.75"/><circle cx="472.1" cy="672" r="2.75"/><circle cx="474.7" cy="672" r="2.75"/>
</g>
<g fill="#BC3C29">
<circle cx="497.8" cy="527.1" r="2.75"/><circle cx="496.5" cy="542.4" r="2.75"/><circle cx="494.2" cy="545.2" r="2.75"/><circle cx="498.2" cy="561.1" r="2.75"/><circle cx="495.3" cy="568.2" r="2.75"/><circle cx="494.2" cy="604.1" r="2.75"/><circle cx="496.5" cy="611.3" r="2.75"/><circle cx="494.2" cy="614.8" r="2.75"/><circle cx="498.8" cy="615.9" r="2.75"/><circle cx="495.9" cy="620.5" r="2.75"/><circle cx="494.7" cy="624.6" r="2.75"/><circle cx="498.2" cy="625.7" r="2.75"/><circle cx="493.6" cy="630.9" r="2.75"/><circle cx="498.2" cy="632" r="2.75"/><circle cx="495.3" cy="636.1" r="2.75"/><circle cx="498.2" cy="639.5" r="2.75"/><circle cx="499.3" cy="643.6" r="2.75"/><circle cx="494.7" cy="644.7" r="2.75"/><circle cx="494.2" cy="649.3" r="2.75"/><circle cx="499.3" cy="649.9" r="2.75"/><circle cx="495.3" cy="653.9" r="2.75"/><circle cx="497" cy="660.9" r="2.75"/><circle cx="495.3" cy="666.2" r="2.75"/><circle cx="498.8" cy="669.4" r="2.75"/><circle cx="493.6" cy="672.1" r="2.75"/><circle cx="498.9" cy="672.9" r="2.75"/><circle cx="496.3" cy="675" r="2.75"/><circle cx="494" cy="677.4" r="2.75"/><circle cx="494.8" cy="682.3" r="2.75"/><circle cx="494.4" cy="687.7" r="2.75"/><circle cx="498.7" cy="698.4" r="2.75"/><circle cx="496.2" cy="700.7" r="2.75"/>
</g>
<g stroke="#000" stroke-width="1.7" fill="none">
<path d="M332.1 399.5V718.6H520.7" stroke-width="2"/>
<path d="M327.1 645.35H332.1M327.1 556.2H332.1M327.1 467.05H332.1M367 718.6V723.3M426 718.6V723.3M484.8 718.6V723.3"/>
</g>
<text class="tk" x="322.9" y="651.7" text-anchor="end">0.5</text>
<text class="tk" x="322.9" y="562.55" text-anchor="end">1.0</text>
<text class="tk" x="322.9" y="473.4" text-anchor="end">1.5</text>
<text class="tk" x="367" y="738.4" text-anchor="middle">0</text>
<text class="tk" x="426" y="738.4" text-anchor="middle">2</text>
<text class="tk" x="484.8" y="738.4" text-anchor="middle">4</text>
<text class="tt" x="426.4" y="760.7" text-anchor="middle">Year</text>
<text class="tt" transform="translate(292.2 559.05) rotate(-90)" text-anchor="middle">ipsilateral putamen</text>
<text class="lb" x="278.1" y="409.9">D</text>
</g>
<g>
<text class="tt" x="535" y="348.3">NSD Status</text>
<g stroke="#0072B5" stroke-width="1.95" fill="none">
<path d="M545 362.3V378.9"/>
<rect x="537.1" y="365.5" width="15.8" height="10.2" fill="#fff"/>
<path d="M537.1 370.6H552.9"/>
</g>
<circle cx="545" cy="370.6" r="2.75" fill="#0072B5"/>
<text class="tk" x="565" y="376.2">SAA−negative</text>
<g stroke="#BC3C29" stroke-width="1.95" fill="none">
<path d="M545 383V399.6"/>
<rect x="537.1" y="386.2" width="15.8" height="10.2" fill="#fff"/>
<path d="M537.1 391.3H552.9"/>
</g>
<circle cx="545" cy="391.3" r="2.75" fill="#BC3C29"/>
<text class="tk" x="565" y="397">SAA−positive</text>
</g>
</svg></body></html>
